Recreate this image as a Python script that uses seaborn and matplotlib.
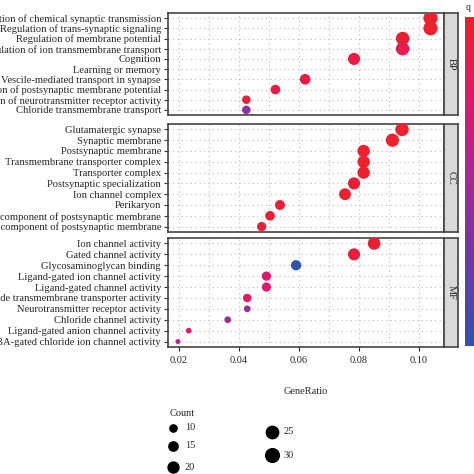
import matplotlib
matplotlib.use("Agg")
import matplotlib.pyplot as plt
import seaborn as sns
import pandas as pd
import numpy as np
from matplotlib.colors import LinearSegmentedColormap, Normalize
from matplotlib.lines import Line2D

sns.set_style("white")
plt.rcParams['font.family'] = ['Liberation Serif', 'DejaVu Serif']

bp_terms = ["Regulation of chemical synaptic transmission", "Regulation of trans-synaptic signaling",
            "Regulation of membrane potential", "Regulation of ion transmembrane transport",
            "Cognition", "Learning or memory", "Vescile-mediated transport in synapse",
            "Regulation of postsynaptic membrane potential", "Regulation of neurotransmitter receptor activity",
            "Chloride transmembrane transport"]
bp_ratio = [0.104, 0.104, 0.0947, 0.0947, 0.0785, np.nan, 0.0622, 0.0523, 0.0426, 0.0426]
bp_count = [32, 32, 29, 29, 24, 24, 19, 16, 13, 13]
bp_q = [0.001, 0.001, 0.002, 0.006, 0.004, np.nan, 0.004, 0.004, 0.002, 0.024]

cc_terms = ["Glutamatergic synapse", "Synaptic membrane", "Postsynaptic membrane",
            "Transmembrane transporter complex", "Transporter complex", "Postsynaptic specialization",
            "Ion channel complex", "Perikaryon", "Intrinsic component of postsynaptic membrane",
            "Integral component of postsynaptic membrane"]
cc_ratio = [0.0945, 0.0913, 0.0817, 0.0817, 0.0817, 0.0785, 0.0755, 0.0538, 0.0505, 0.0477]
cc_count = [29, 28, 25, 25, 25, 24, 23, 17, 16, 15]
cc_q = [0.001, 0.001, 0.001, 0.001, 0.001, 0.002, 0.001, 0.002, 0.002, 0.002]

mf_terms = ["Ion channel activity", "Gated channel activity", "Glycosaminoglycan binding",
            "Ligand-gated ion channel activity", "Ligand-gated channel activity",
            "Chloride transmembrane transporter activity", "Neurotransmitter receptor activity",
            "Chloride channel activity", "Ligand-gated anion channel activity",
            "GABA-gated chloride ion channel activity"]
mf_ratio = [0.0852, 0.0785, 0.0592, 0.0493, 0.0493, 0.0429, 0.0429, 0.0364, 0.0234, 0.0198]
mf_count = [26, 24, 18, 15, 15, 13, 9, 9, 7, 6]
mf_q = [0.002, 0.003, 0.04, 0.01, 0.011, 0.009, 0.022, 0.022, 0.008, 0.018]

cmap = LinearSegmentedColormap.from_list("q", ["#EE2127", "#E0186E", "#A8289A", "#6A3AA8", "#3352B0"])
norm = Normalize(0, 0.04)

def size(c):
    return 3.5 * np.asarray(c, float) - 8

fig = plt.figure(figsize=(4.74, 4.74), dpi=100)
W, H = 474, 474
panels = [("BP", bp_terms, bp_ratio, bp_count, bp_q, 13, 115),
          ("CC", cc_terms, cc_ratio, cc_count, cc_q, 124, 232),
          ("MF", mf_terms, mf_ratio, mf_count, mf_q, 238, 347)]
for i, (name, terms, ratio, count, q, top, bot) in enumerate(panels):
    ax = fig.add_axes([168 / W, 1 - bot / H, (444 - 168) / W, (bot - top) / H])
    df = pd.DataFrame({"term": terms, "ratio": ratio, "count": count, "q": q})
    df["y"] = np.arange(len(terms))
    d = df.dropna()
    sns.scatterplot(data=d, x="ratio", y="y", ax=ax, s=size(d["count"]),
                    c=cmap(norm(d["q"])), edgecolor="none", legend=False, zorder=3)
    ax.set_xlim(0.0165, 0.1085)
    ax.set_ylim(len(terms) - 0.5, -0.5)
    ax.set_yticks(df["y"])
    ax.set_yticklabels(terms, fontsize=7.6)
    ax.set_xticks(np.arange(0.02, 0.101, 0.01), minor=True)
    ax.set_xticks([0.02, 0.04, 0.06, 0.08, 0.10])
    ax.grid(True, which="both", linestyle=(0, (1, 3)), color="#bbbbbb", linewidth=0.8)
    ax.set_ylabel("")
    ax.tick_params(axis="y", length=3, pad=2, color="#333333", left=True)
    for s in ax.spines.values():
        s.set_color("#444444"); s.set_linewidth(1.2)
    if i < 2:
        ax.set_xticklabels([]); ax.set_xlabel("")
        ax.tick_params(axis="x", length=0, which="both")
    else:
        ax.set_xticklabels(["0.02", "0.04", "0.06", "0.08", "0.10"], fontsize=7.5)
        ax.set_xlabel("GeneRatio", fontsize=7.5, labelpad=16)
        ax.tick_params(axis="x", length=3, which="major", bottom=True)
        ax.tick_params(axis="x", length=0, which="minor")
    sax = fig.add_axes([444 / W, 1 - bot / H, 14 / W, (bot - top) / H])
    sax.set_facecolor("#d9d9d9")
    sax.set_xticks([]); sax.set_yticks([])
    for s in sax.spines.values():
        s.set_color("#444444"); s.set_linewidth(1.2)
    sax.text(0.5, 0.5, name, rotation=-90, ha="center", va="center", fontsize=7.5, transform=sax.transAxes)

cax = fig.add_axes([465 / W, 1 - 346 / H, 14 / W, (346 - 17) / H])
grad = np.linspace(0, 1, 200).reshape(-1, 1)
cax.imshow(grad, aspect="auto", cmap=cmap, extent=[0, 1, 1, 0])
cax.set_xticks([]); cax.set_yticks([])
for s in cax.spines.values():
    s.set_visible(False)
fig.text(466 / W, 1 - 8 / H, "q", fontsize=7, va="center")

fig.text(170 / W, 1 - 413 / H, "Count", fontsize=7.5, va="center")
for c, (xp, yp) in zip([10, 15, 20, 25, 30], [(173, 428), (173, 446), (173, 467), (272, 432), (272, 455)]):
    fig.add_artist(Line2D([xp / W], [1 - yp / H], marker="o", markersize=np.sqrt(size(c)),
                          color="black", linestyle="none", transform=fig.transFigure))
    fig.text((xp + 12) / W, 1 - yp / H, str(c), fontsize=7.5, va="center")

fig.savefig("out.png", dpi=100)
